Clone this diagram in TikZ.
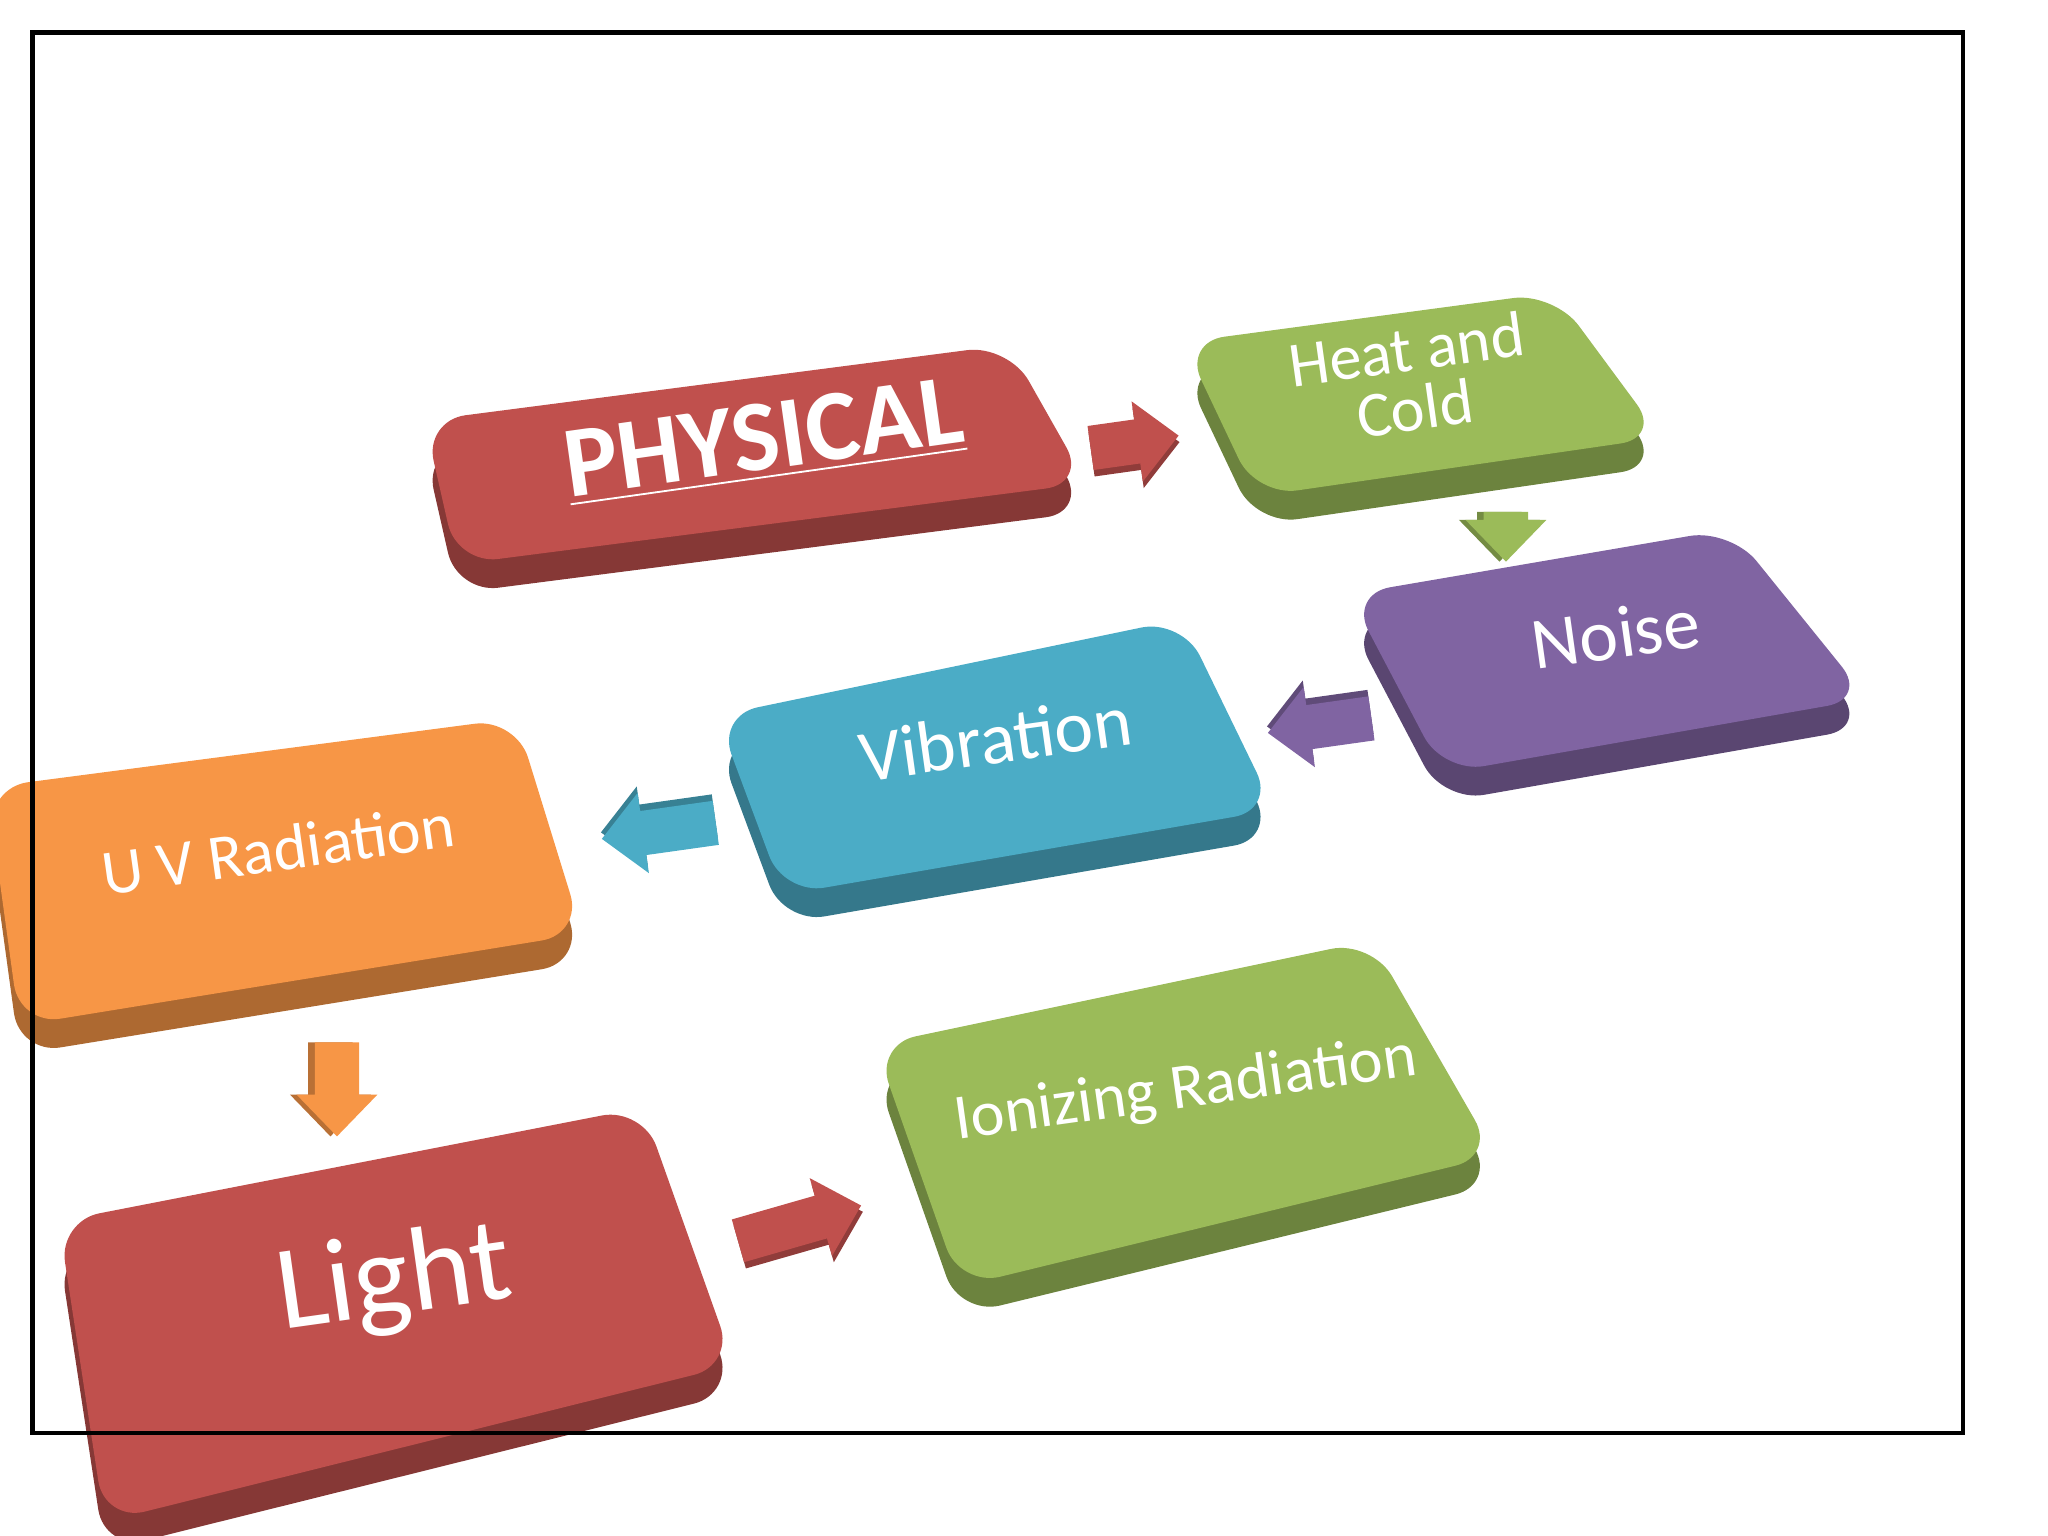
\documentclass[tikz,border=0pt]{standalone}
\usepackage{fontspec}
\setmainfont{Carlito}
\definecolor{cred}{HTML}{C0504D}\definecolor{cgreen}{HTML}{9BBB59}
\definecolor{cpurple}{HTML}{8064A2}\definecolor{ccyan}{HTML}{4BACC6}
\definecolor{corange}{HTML}{F79646}
\newcommand\flatbox[5]{%
  \fill[#1!70!black,rounded corners=9pt] ([yshift=-0.22cm]#2) -- ([yshift=-0.22cm]#3) -- ([yshift=-0.22cm]#4) -- ([yshift=-0.22cm]#5) -- cycle;
  \fill[#1,rounded corners=9pt] (#2) -- (#3) -- (#4) -- (#5) -- cycle;}
\newcommand\blockarrow[4]{%
  \begin{scope}[shift={#1},rotate=#2,x=1cm,y=1cm]
  \fill[#4!75!black] (0,-0.22) -- ++(0,0.34) -- ++(#3-0.32,0) -- ++(0,0.14) -- ++(0.32,-0.31) -- ++(-0.32,-0.31) -- ++(0,0.14) -- cycle;
  \fill[#4] (0,-0.17) -- ++(0,0.34) -- ++(#3-0.32,0) -- ++(0,0.14) -- ++(0.32,-0.31) -- ++(-0.32,-0.31) -- ++(0,0.14) -- cycle;
  \end{scope}}
\tikzset{lbl/.style={text=white,align=center,rotate=8,inner sep=0pt}}
\begin{document}
\begin{tikzpicture}[x=0.01cm,y=-0.01cm]
\useasboundingbox (0,0) rectangle (1568,1176);
\flatbox{cred}{325,322}{772,264}{832,370}{350,432}
\flatbox{cgreen}{906,262}{1190,224}{1272,335}{962,380}
\flatbox{cpurple}{1033,455}{1325,405}{1430,535}{1105,592}
\flatbox{ccyan}{549,548}{905,474}{976,620}{600,685}
\flatbox{corange}{-10,603}{395,550}{446,715}{15,785}
\flatbox{cred}{45,935}{492,848}{562,1045}{80,1165}
\flatbox{cgreen}{670,800}{1050,720}{1145,885}{735,985}
\blockarrow{(835,343)}{8}{0.68}{cred}
\blockarrow{(1153,392)}{-90}{0.38}{cgreen}
\blockarrow{(1050,550)}{188}{0.8}{cpurple}
\blockarrow{(548,630)}{188}{0.88}{ccyan}
\blockarrow{(258,798)}{-90}{0.72}{corange}
\blockarrow{(565,950)}{16}{0.98}{cred}
\node[lbl,font=\bfseries\fontsize{22}{24}\selectfont] (phys) at (585,338) {\underline{PHYSICAL}};
\node[lbl,font=\fontsize{14}{13}\selectfont] (heat) at (1080,290) {Heat and\\Cold};
\node[lbl,font=\fontsize{16}{18}\selectfont] (noise) at (1237,485) {Noise};
\node[lbl,font=\fontsize{16}{18}\selectfont] (vib) at (762,565) {Vibration};
\node[lbl,font=\fontsize{14}{16}\selectfont] (uv) at (213,650) {U V Radiation};
\node[lbl,font=\fontsize{26}{28}\selectfont] (light) at (302,982) {Light};
\node[lbl,font=\fontsize{14}{16}\selectfont] (ion) at (908,835) {Ionizing Radiation};
\draw[line width=1pt] (25,25) rectangle (1503,1097);
\end{tikzpicture}
\end{document}
